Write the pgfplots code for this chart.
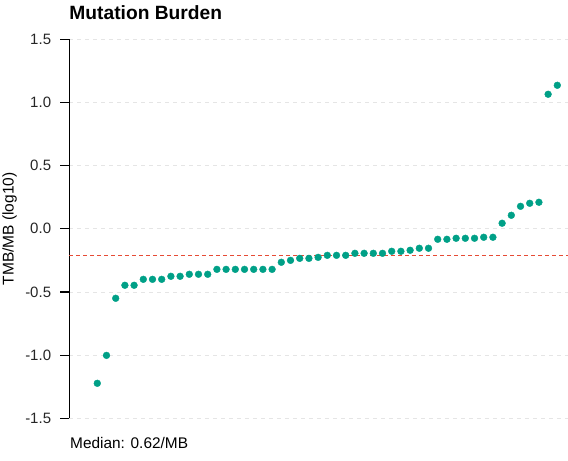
\documentclass[border=0pt]{standalone}
\usepackage{pgfplots}
\pgfplotsset{compat=1.18}
\usepackage{fontspec}
\setmainfont{Liberation Sans}
\definecolor{pointcol}{HTML}{00A087}
\definecolor{medcol}{HTML}{E64B35}
\definecolor{gridcol}{HTML}{E5E5E5}

\begin{document}
\begin{tikzpicture}
\useasboundingbox (-69.3bp,-42.7bp) rectangle (498.7bp,418.3bp);
\begin{axis}[
	scale only axis,
	width=498.7bp, height=379bp,
	xmin=-2.043, xmax=52.16,
	ymin=-1.5, ymax=1.5,
	axis x line=none,
	axis y line*=left,
	y axis line style={line width=1.1bp, black, -},
	ytick={-1.5,-1,-0.5,0,0.5,1,1.5},
	yticklabels={-1.5,-1.0,-0.5,0.0,0.5,1.0,1.5},
	tick align=outside,
	major tick length=9bp,
	ytick style={line width=1.1bp, black},
	yticklabel style={font=\fontsize{15bp}{18bp}\selectfont, inner sep=0pt, xshift=-9bp, text=black!85},
	ymajorgrids,
	major grid style={gridcol, line width=0.8bp, dash pattern=on 4bp off 4bp},
	ylabel={TMB/MB (log10)},
	every axis y label/.style={at={(axis description cs:0,0.5)}, xshift=-59.8bp, rotate=90, anchor=center, font=\fontsize{15.5bp}{18bp}\selectfont},
	title={\bfseries Mutation Burden},
	title style={at={(axis description cs:0,1)}, anchor=base west, yshift=14.3bp, inner sep=0pt, font=\fontsize{19.2bp}{22bp}\selectfont},
	clip=false,
]
% median line, log10(0.62)
\addplot[medcol, line width=0.9bp, dash pattern=on 4bp off 3bp] coordinates {(-2.043,-0.2076) (52.16,-0.2076)};
\addplot[only marks, mark=*, mark size=3.4bp, mark options={fill=pointcol, draw=pointcol}] coordinates {
	(1,-1.223) (2,-1.002) (3,-0.550) (4,-0.447) (5,-0.447)
	(6,-0.400) (7,-0.400) (8,-0.400) (9,-0.376) (10,-0.376)
	(11,-0.360) (12,-0.360) (13,-0.360) (14,-0.321) (15,-0.321)
	(16,-0.321) (17,-0.321) (18,-0.321) (19,-0.321) (20,-0.321)
	(21,-0.265) (22,-0.250) (23,-0.234) (24,-0.234) (25,-0.226)
	(26,-0.210) (27,-0.210) (28,-0.210) (29,-0.194) (30,-0.194)
	(31,-0.194) (32,-0.194) (33,-0.178) (34,-0.178) (35,-0.170)
	(36,-0.154) (37,-0.154) (38,-0.083) (39,-0.083) (40,-0.075)
	(41,-0.075) (42,-0.075) (43,-0.067) (44,-0.067) (45,0.044)
	(46,0.107) (47,0.178) (48,0.202) (49,0.210) (50,1.065)
	(51,1.136)
};
\node[anchor=base west, inner sep=0pt, font=\fontsize{15.4bp}{18bp}\selectfont] at (axis description cs:0,0) [yshift=-30.4bp, xshift=0.7bp] {Median: 0.62/MB};
\end{axis}
\end{tikzpicture}
\end{document}
